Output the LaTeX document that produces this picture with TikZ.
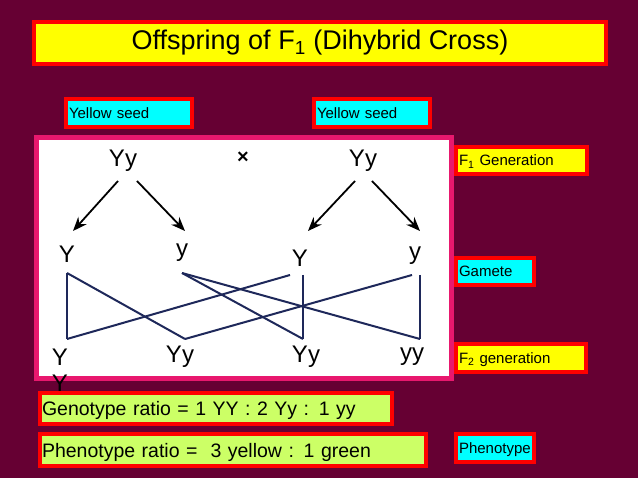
\documentclass[tikz,border=0pt]{standalone}
\usepackage{fontspec}
\setmainfont{Liberation Sans}
\usetikzlibrary{arrows.meta}
\begin{document}
\begin{tikzpicture}[x=1pt,y=-1pt,
 lbl/.style={draw=red,line width=4pt,anchor=north west,inner sep=0pt,font=\fontsize{15}{17}\selectfont,text depth=0pt},
 big/.style={font=\fontsize{24}{27}\selectfont},
 ln/.style={draw={rgb,255:red,30;green,40;blue,90},line width=2pt},
 arr/.style={-{Stealth[length=14pt,width=11pt]},line width=1.8pt}]
\definecolor{bg}{RGB}{102,0,51}
\definecolor{pnk}{RGB}{232,24,110}
\definecolor{yel}{RGB}{255,255,0}
\definecolor{cy}{RGB}{0,255,255}
\definecolor{gr}{RGB}{204,255,102}
\fill[bg] (0,0) rectangle (638,478);
\useasboundingbox (0,0) rectangle (638,478);
\node[draw=red,line width=4pt,fill=yel,minimum width=572,minimum height=42,anchor=north west,font=\fontsize{27}{30}\selectfont] (title) at (32,20) {Offspring of F\textsubscript{1} (Dihybrid Cross)};
\node[lbl,fill=cy,minimum width=126,minimum height=28,text width=120] (ys1) at (64,97) {Yellow seed};
\node[lbl,fill=cy,minimum width=116,minimum height=28,text width=110] (ys2) at (312,97) {Yellow seed};
\node[lbl,fill=yel,minimum width=131,minimum height=27,text width=125] (f1) at (454,145) {F\textsubscript{1} Generation};
\node[lbl,fill=cy,minimum width=78,minimum height=27,text width=72] (gam) at (454,256) {Gamete};
\node[lbl,fill=yel,minimum width=130,minimum height=28,text width=124] (f2) at (454,342) {F\textsubscript{2} generation};
\node[lbl,fill=cy,minimum width=78,minimum height=28,text width=72] (ph) at (454,432) {Phenotype};
\node[draw=pnk,line width=5pt,fill=white,minimum width=415,minimum height=241,anchor=north west,inner sep=0pt] (panel) at (33.5,135.5) {};
\node[lbl,fill=gr,minimum width=352,minimum height=31,text width=348,font=\fontsize{19.5}{22}\selectfont] (geno) at (38,391) {Genotype ratio = 1 YY : 2 Yy : 1 yy};
\node[lbl,fill=gr,minimum width=386,minimum height=32,text width=382,font=\fontsize{19.5}{22}\selectfont] (pheno) at (38,432) {Phenotype ratio =\ \ 3 yellow : 1 green};
\node[big] (p1) at (123,161) {Yy};
\node[big] (p2) at (363,161) {Yy};
\node[font=\fontsize{20}{22}\selectfont\bfseries] (x) at (243,158) {×};
\node[big] (g1) at (67,254) {Y};
\node[big] (g2) at (182,253) {y};
\node[big] (g3) at (300,258) {Y};
\node[big] (g4) at (415,256) {y};
\node[big] (o1) at (60,357) {Y};
\node[big] (o1b) at (60,383) {Y};
\node[big] (o2) at (180,357) {Yy};
\node[big] (o3) at (306,357) {Yy};
\node[big] (o4) at (412,357) {yy};
\coordinate (a1) at (118,181); \coordinate (b1) at (73,231);
\coordinate (a2) at (137,181); \coordinate (b2) at (185,231);
\coordinate (a3) at (355,181); \coordinate (b3) at (308,231);
\coordinate (a4) at (372,181); \coordinate (b4) at (420,231);
\draw[arr] (a1)--(b1); \draw[arr] (a2)--(b2); \draw[arr] (a3)--(b3); \draw[arr] (a4)--(b4);
\coordinate (t1) at (67,273); \coordinate (t2) at (182,273);
\coordinate (t3) at (303,275); \coordinate (t3b) at (290,275);
\coordinate (t4) at (420,275); \coordinate (t4b) at (412,275);
\coordinate (u1) at (67,339); \coordinate (u2) at (185,339);
\coordinate (u3) at (303,339); \coordinate (u4) at (420,339);
\draw[ln] (t1)--(u1); \draw[ln] (t1)--(u2);
\draw[ln] (t2)--(u3); \draw[ln] (t2)--(u4);
\draw[ln] (t3b)--(u1); \draw[ln] (t3)--(u3);
\draw[ln] (t4b)--(u2); \draw[ln] (t4)--(u4);
\end{tikzpicture}
\end{document}
